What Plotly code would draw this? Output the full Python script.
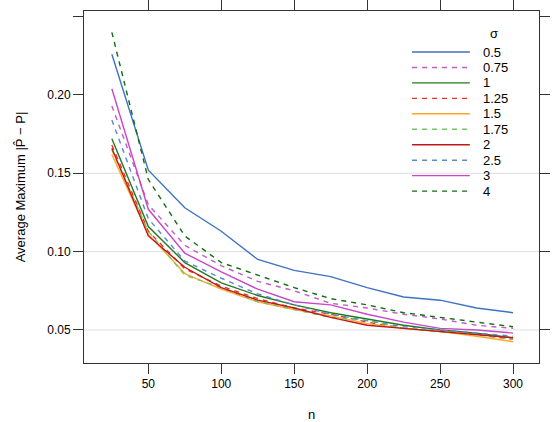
import plotly.graph_objects as go

# sample sizes
n = [25, 50, 75, 100, 125, 150, 175, 200, 225, 250, 275, 300]

# average maximum |P_hat - P| for each sigma
s_0_5 = [0.226, 0.152, 0.128, 0.113, 0.095, 0.088, 0.084, 0.077, 0.071, 0.069, 0.064, 0.061]
s_0_75 = [0.193, 0.130, 0.104, 0.091, 0.081, 0.075, 0.067, 0.064, 0.060, 0.057, 0.053, 0.051]
s_1 = [0.172, 0.116, 0.093, 0.080, 0.072, 0.066, 0.061, 0.057, 0.053, 0.050, 0.048, 0.045]
s_1_25 = [0.168, 0.113, 0.089, 0.078, 0.070, 0.064, 0.060, 0.055, 0.051, 0.049, 0.047, 0.044]
s_1_5 = [0.162, 0.111, 0.086, 0.076, 0.068, 0.063, 0.059, 0.054, 0.051, 0.049, 0.046, 0.0425]
s_1_75 = [0.165, 0.113, 0.085, 0.077, 0.068, 0.063, 0.058, 0.056, 0.051, 0.049, 0.047, 0.044]
s_2 = [0.166, 0.110, 0.090, 0.077, 0.069, 0.064, 0.058, 0.053, 0.051, 0.049, 0.047, 0.045]
s_2_5 = [0.184, 0.121, 0.094, 0.083, 0.073, 0.066, 0.060, 0.056, 0.052, 0.050, 0.048, 0.046]
s_3 = [0.204, 0.127, 0.099, 0.087, 0.076, 0.068, 0.066, 0.060, 0.055, 0.051, 0.050, 0.048]
s_4 = [0.240, 0.146, 0.110, 0.093, 0.085, 0.077, 0.070, 0.066, 0.061, 0.058, 0.055, 0.052]

sigma_labels = ["0.5", "0.75", "1", "1.25", "1.5", "1.75", "2", "2.5", "3", "4"]
series = [s_0_5, s_0_75, s_1, s_1_25, s_1_5, s_1_75, s_2, s_2_5, s_3, s_4]

y_ticks = [0.05, 0.10, 0.15, 0.20, 0.25]
y_ticktext = ["0.05", "0.10", "0.15", "0.20", ""]
x_ticks = [50, 100, 150, 200, 250, 300]
grid_lines = [0.05, 0.10, 0.15]

colors = ["#3D72C2", "#C25CC8", "#217A21", "#F0302A", "#FFA62B",
          "#6CCB5F", "#C01818", "#5A88CF", "#C848C8", "#0F6E0F"]
dashes = ["solid", "5px,5px", "solid", "5px,5px", "solid",
          "5px,5px", "solid", "5px,5px", "solid", "5px,5px"]

fig = go.Figure()

for lab, vals, col, dsh in zip(sigma_labels, series, colors, dashes):
    fig.add_trace(go.Scatter(x=n, y=vals, name=lab, mode="lines", showlegend=False,
                             line=dict(color=col, width=1.4, dash=dsh)))

for g in grid_lines:
    fig.add_hline(y=g, line=dict(color="#DDDDDD", width=1), layer="below")

# legend drawn by hand, lattice style (key lines + labels under a sigma title)
key_x0, key_x1, lab_x = 0.721, 0.848, 0.8725
row_top, row_step = 0.8835, 0.0439
fig.add_annotation(text="σ", x=0.901, y=0.9375, xref="paper", yref="paper",
                   xanchor="center", yanchor="middle",
                   showarrow=False, font=dict(size=13, color="black"))
for i, (lab, col, dsh) in enumerate(zip(sigma_labels, colors, dashes)):
    yy = row_top - i * row_step
    fig.add_shape(type="line", xref="paper", yref="paper",
                  x0=key_x0, x1=key_x1, y0=yy, y1=yy,
                  line=dict(color=col, width=1.4, dash=dsh))
    fig.add_annotation(text=lab, x=lab_x, y=yy, xref="paper", yref="paper",
                       xanchor="left", yanchor="middle", showarrow=False,
                       font=dict(size=13, color="black"))

fig.update_layout(
    width=552, height=422,
    margin=dict(l=84, r=13, t=11, b=59),
    plot_bgcolor="white", paper_bgcolor="white",
    font=dict(family="Liberation Sans, Arial, sans-serif", size=12, color="black"),
    showlegend=False,
    hovermode=False,
)

fig.update_xaxes(range=[5.9, 317.8], tickvals=x_ticks, ticks="outside", ticklen=10,
                 showline=True, linecolor="#333333", linewidth=1, mirror="ticks",
                 showgrid=False, zeroline=False, tickcolor="#333333", automargin=False,
                 title=dict(text="n", font=dict(size=13), standoff=19))
fig.update_yaxes(range=[0.0289, 0.2536], tickvals=y_ticks, ticktext=y_ticktext,
                 ticks="outside", ticklen=10, automargin=False,
                 showline=True, linecolor="#333333", linewidth=1, mirror="ticks",
                 showgrid=False, zeroline=False, tickcolor="#333333",
                 title=dict(text="Average Maximum |P̂ − P|", font=dict(size=13), standoff=18))

# page body has a default 8px margin; drop it so the figure sits at the corner
fig.write_html("out.html", config={"displayModeBar": False},
               post_script="document.body.style.margin='0';")
